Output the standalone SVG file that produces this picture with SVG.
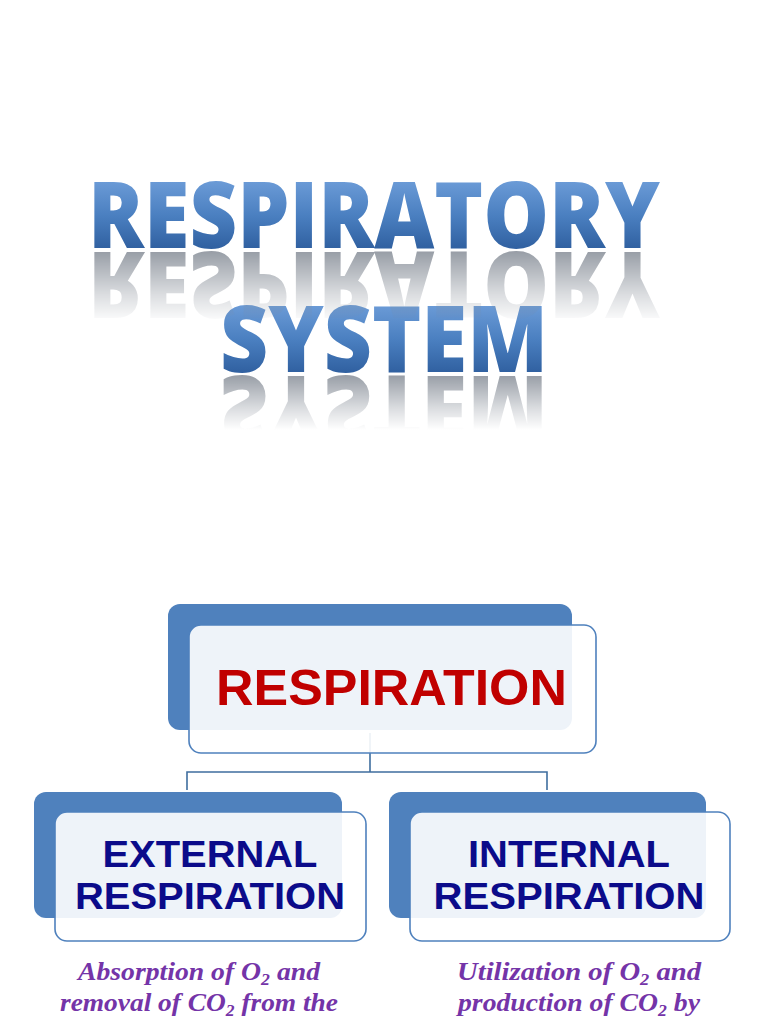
<svg xmlns="http://www.w3.org/2000/svg" xmlns:xlink="http://www.w3.org/1999/xlink" width="768" height="1024" viewBox="0 0 768 1024">
<defs>
<linearGradient id="tg1" x1="0" y1="182" x2="0" y2="250" gradientUnits="userSpaceOnUse">
<stop offset="0" stop-color="#6a9ad6"/><stop offset="0.5" stop-color="#4a7fc0"/><stop offset="1" stop-color="#2f5f9f"/>
</linearGradient>
<linearGradient id="tg2" x1="0" y1="306" x2="0" y2="374" gradientUnits="userSpaceOnUse">
<stop offset="0" stop-color="#6a9ad6"/><stop offset="0.5" stop-color="#4a7fc0"/><stop offset="1" stop-color="#2f5f9f"/>
</linearGradient>
<linearGradient id="fade" x1="0" y1="0" x2="0" y2="1">
<stop offset="0" stop-color="#fff" stop-opacity="0.85"/><stop offset="0.6" stop-color="#fff" stop-opacity="0.3"/><stop offset="1" stop-color="#fff" stop-opacity="0"/>
</linearGradient>
<mask id="m1" maskUnits="userSpaceOnUse" x="0" y="251" width="768" height="72">
<rect x="0" y="251" width="768" height="72" fill="url(#fade)"/>
</mask>
<mask id="m2" maskUnits="userSpaceOnUse" x="0" y="375" width="768" height="55">
<rect x="0" y="375" width="768" height="55" fill="url(#fade)"/>
</mask>
</defs>
<style>
.title{font-family:"Open Sans","Noto Sans",sans-serif;font-weight:800;font-size:92px}
.back{fill:#4f81bd}
.front{fill:#fff;fill-opacity:0.9;stroke:#4f81bd;stroke-width:1.6}
.main{font-family:"Liberation Sans",Arial,sans-serif;font-weight:bold;fill:#c00000;font-size:50px}
.sub{font-family:"Liberation Sans",Arial,sans-serif;font-weight:bold;fill:#0b0b8a;font-size:37px}
.desc{font-family:"Liberation Serif","Times New Roman",serif;font-style:italic;font-weight:bold;fill:#7434a8;font-size:25px}
.conn{fill:none;stroke:#3f6e9f;stroke-width:1.6}
</style>
<g id="title">
<g fill="url(#tg1)"><text id="t1" class="title" x="88" y="248" textLength="572" lengthAdjust="spacingAndGlyphs">RESPIRATORY</text></g>
<g fill="url(#tg2)"><text id="t2" class="title" x="220" y="372" textLength="328" lengthAdjust="spacingAndGlyphs">SYSTEM</text></g>
</g>
<g id="reflections">
<g mask="url(#m1)"><use xlink:href="#t1" transform="translate(0,500) scale(1,-1)" fill="#858c96"/></g>
<g mask="url(#m2)"><use xlink:href="#t2" transform="translate(0,748) scale(1,-1)" fill="#858c96"/></g>
</g>
<g id="connectors">
<path class="conn" d="M370 733 V772 M187 790 V772 H547 V790"/>
</g>
<g id="respiration">
<rect class="back" x="168" y="604" width="404" height="126" rx="12"/>
<rect class="front" x="189" y="625" width="407" height="128" rx="12"/>
<text class="main" x="216" y="705" textLength="351" lengthAdjust="spacingAndGlyphs">RESPIRATION</text>
</g>
<g id="external">
<rect class="back" x="34" y="792" width="308" height="126" rx="12"/>
<rect class="front" x="55" y="812" width="311" height="129" rx="12"/>
<text class="sub" x="210" y="867" text-anchor="middle" textLength="215" lengthAdjust="spacingAndGlyphs">EXTERNAL</text>
<text class="sub" x="210" y="909" text-anchor="middle" textLength="270" lengthAdjust="spacingAndGlyphs">RESPIRATION</text>
</g>
<g id="internal">
<rect class="back" x="389" y="792" width="317" height="126" rx="12"/>
<rect class="front" x="410" y="812" width="320" height="129" rx="12"/>
<text class="sub" x="569" y="867" text-anchor="middle" textLength="202" lengthAdjust="spacingAndGlyphs">INTERNAL</text>
<text class="sub" x="569" y="909" text-anchor="middle" textLength="271" lengthAdjust="spacingAndGlyphs">RESPIRATION</text>
</g>
<g id="external-desc">
<text class="desc" x="78" y="980" textLength="242" lengthAdjust="spacingAndGlyphs">Absorption of O<tspan font-size="16" dy="5">2</tspan><tspan dy="-5"> and</tspan></text>
<text class="desc" x="60" y="1011" textLength="278" lengthAdjust="spacingAndGlyphs">removal of CO<tspan font-size="16" dy="5">2</tspan><tspan dy="-5"> from the</tspan></text>
</g>
<g id="internal-desc">
<text class="desc" x="457" y="980" textLength="244" lengthAdjust="spacingAndGlyphs">Utilization of O<tspan font-size="16" dy="5">2</tspan><tspan dy="-5"> and</tspan></text>
<text class="desc" x="458" y="1011" textLength="242" lengthAdjust="spacingAndGlyphs">production of CO<tspan font-size="16" dy="5">2</tspan><tspan dy="-5"> by</tspan></text>
</g>
</svg>
